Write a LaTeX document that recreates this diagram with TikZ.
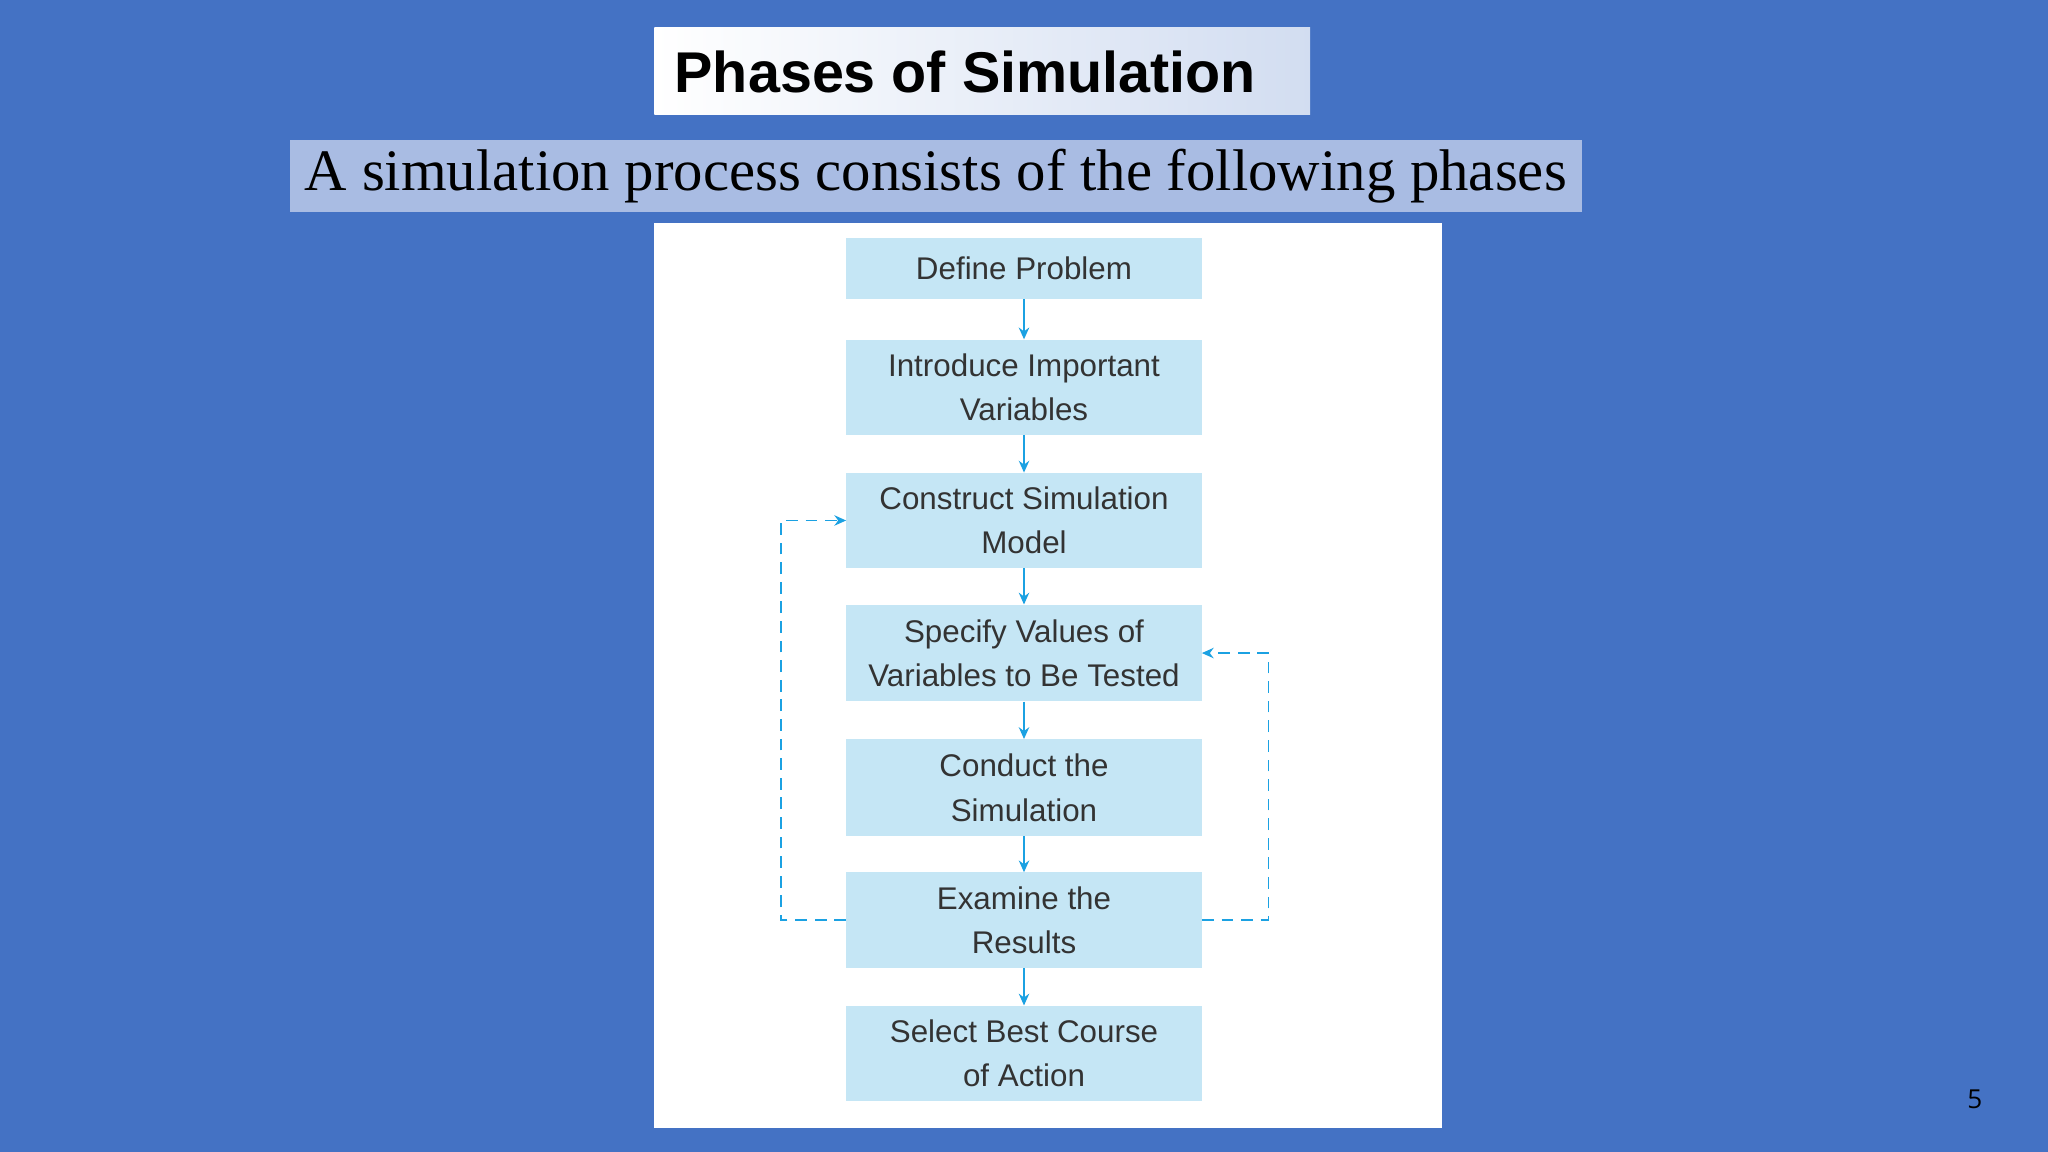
\documentclass[tikz,border=0pt]{standalone}
\usepackage{fontspec}
\setmainfont{Liberation Serif}
\newfontfamily\boxfont{Liberation Sans}
\newfontfamily\numfont{Open Sans}
\usetikzlibrary{arrows.meta}
\definecolor{bg}{HTML}{4472C4}
\definecolor{band}{HTML}{A9BCE3}
\definecolor{boxfill}{HTML}{C5E6F5}
\definecolor{arr}{HTML}{1BA1E2}
\definecolor{txt}{HTML}{333333}
\tikzset{
  phase/.style={fill=boxfill,minimum width=272pt,inner sep=0pt,align=center,font=\boxfont\fontsize{24}{34}\selectfont,text=txt},
  flow/.style={draw=arr,line width=1.3pt,-{Stealth[length=9pt,width=8pt]}},
  loop/.style={flow,dash pattern=on 9pt off 6pt}
}
\begin{document}
\begin{tikzpicture}[x=1pt,y=-1pt]
\fill[bg] (0,0) rectangle (1568,882);
\useasboundingbox (0,0) rectangle (1568,882);
\shade[left color=white,right color=white!60!bg!60] (501,21) rectangle (1003,88);
\node[anchor=west,font=\boxfont\bfseries\fontsize{44}{50}\selectfont] (title) at (513,55) {Phases of Simulation};
\fill[band] (222,107) rectangle (1211,162);
\node[font=\fontsize{45}{50}\selectfont] (sub) at (716.5,135) {A simulation process consists of the following phases};
\fill[white] (501,171) rectangle (1104,864);
\node[phase,minimum height=47pt] (b1) at (784,205.5) {Define Problem};
\node[phase,minimum height=73pt] (b2) at (784,296.5) {Introduce Important\\Variables};
\node[phase,minimum height=73pt] (b3) at (784,398.5) {Construct Simulation\\Model};
\node[phase,minimum height=74pt] (b4) at (784,500) {Specify Values of\\Variables to Be Tested};
\node[phase,minimum height=74pt] (b5) at (784,603) {Conduct the\\Simulation};
\node[phase,minimum height=73pt] (b6) at (784,704.5) {Examine the\\Results};
\node[phase,minimum height=73pt] (b7) at (784,806.5) {Select Best Course\\of Action};
\foreach \a/\b in {b1/b2,b2/b3,b3/b4,b4/b5,b5/b6,b6/b7}
  \draw[flow] (\a) -- (\b);
\draw[loop] (b6.west) -- ++(-50,0) |- (b3.west);
\draw[loop] (b6.east) -- ++(51,0) |- (b4.east);
\node[font=\numfont\fontsize{20}{24}\selectfont] (pg) at (1512,842) {5};
\end{tikzpicture}
\end{document}
